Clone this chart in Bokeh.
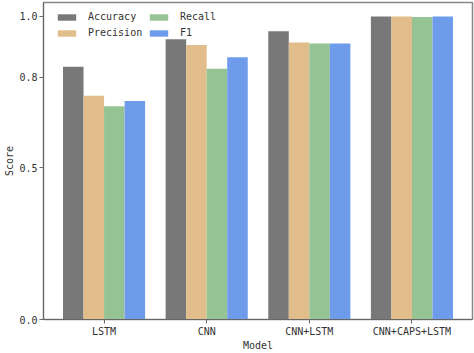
from bokeh.plotting import figure
from bokeh.models import ColumnDataSource, FixedTicker, Legend, LegendItem, Range1d
from bokeh.embed import file_html
from bokeh.resources import INLINE

models = ["LSTM", "CNN", "CNN+LSTM", "CNN+CAPS+LSTM"]
metrics = ["Accuracy", "Precision", "Recall", "F1"]
accuracy = [0.834, 0.925, 0.951, 1.000]
precision = [0.738, 0.906, 0.914, 1.000]
recall = [0.704, 0.827, 0.911, 0.998]
f1 = [0.721, 0.865, 0.911, 1.000]
colors = ["#787878", "#e0bd8a", "#96c394", "#6e9ceb"]
y_ticks = [0.0, 0.5, 0.8, 1.0]

series = [accuracy, precision, recall, f1]
FONT = "DejaVu Sans Mono"

p = figure(width=474, height=353, output_backend="svg", toolbar_location=None,
           x_range=Range1d(-0.59, 3.59), y_range=Range1d(0, 1.046),
           min_border_left=43, min_border_right=2, min_border_top=2, min_border_bottom=33)

bw = 0.2
renderers = []
for i, (name, vals, c) in enumerate(zip(metrics, series, colors)):
    xs = [k + (i - 1.5) * bw for k in range(len(models))]
    src = ColumnDataSource(dict(x=xs, top=vals))
    r = p.vbar(x="x", top="top", width=bw, bottom=0, source=src, fill_color=c, line_color=None)
    renderers.append(r)

p.xgrid.visible = False
p.ygrid.visible = False
p.outline_line_color = "#888888"
p.outline_line_width = 1.5

p.xaxis.ticker = FixedTicker(ticks=list(range(len(models))))
p.xaxis.major_label_overrides = {i: m for i, m in enumerate(models)}
p.yaxis.ticker = FixedTicker(ticks=y_ticks)
p.yaxis.major_label_overrides = {t: f"{t:.1f}" for t in y_ticks}

for ax in (p.xaxis[0], p.yaxis[0]):
    ax.axis_line_color = "#666666"
    ax.major_tick_line_color = "#666666"
    ax.major_tick_out = 4
    ax.major_tick_in = 0
    ax.minor_tick_line_color = None
    ax.major_label_text_font = FONT
    ax.major_label_text_font_size = "10px"
    ax.major_label_text_color = "#333333"
    ax.axis_label_text_font = FONT
    ax.axis_label_text_font_size = "10px"
    ax.axis_label_text_font_style = "normal"
    ax.axis_label_text_color = "#333333"
    ax.major_label_standoff = 2

p.xaxis.axis_label = "Model"
p.yaxis.axis_label = "Score"
p.xaxis.axis_label_standoff = 0
p.yaxis.axis_label_standoff = 1

items = [LegendItem(label=m, renderers=[r]) for m, r in zip(metrics, renderers)]
legend = Legend(items=items, ncols=2, location=(12, 280),
                glyph_width=23, glyph_height=8, label_standoff=10, spacing=3,
                padding=0, margin=0, border_line_alpha=0, background_fill_alpha=0,
                label_text_font=FONT, label_text_font_size="10px", label_text_color="#333333",
                label_height=13, label_width=56)
p.add_layout(legend)

open("out.html", "w").write(file_html(p, INLINE))
